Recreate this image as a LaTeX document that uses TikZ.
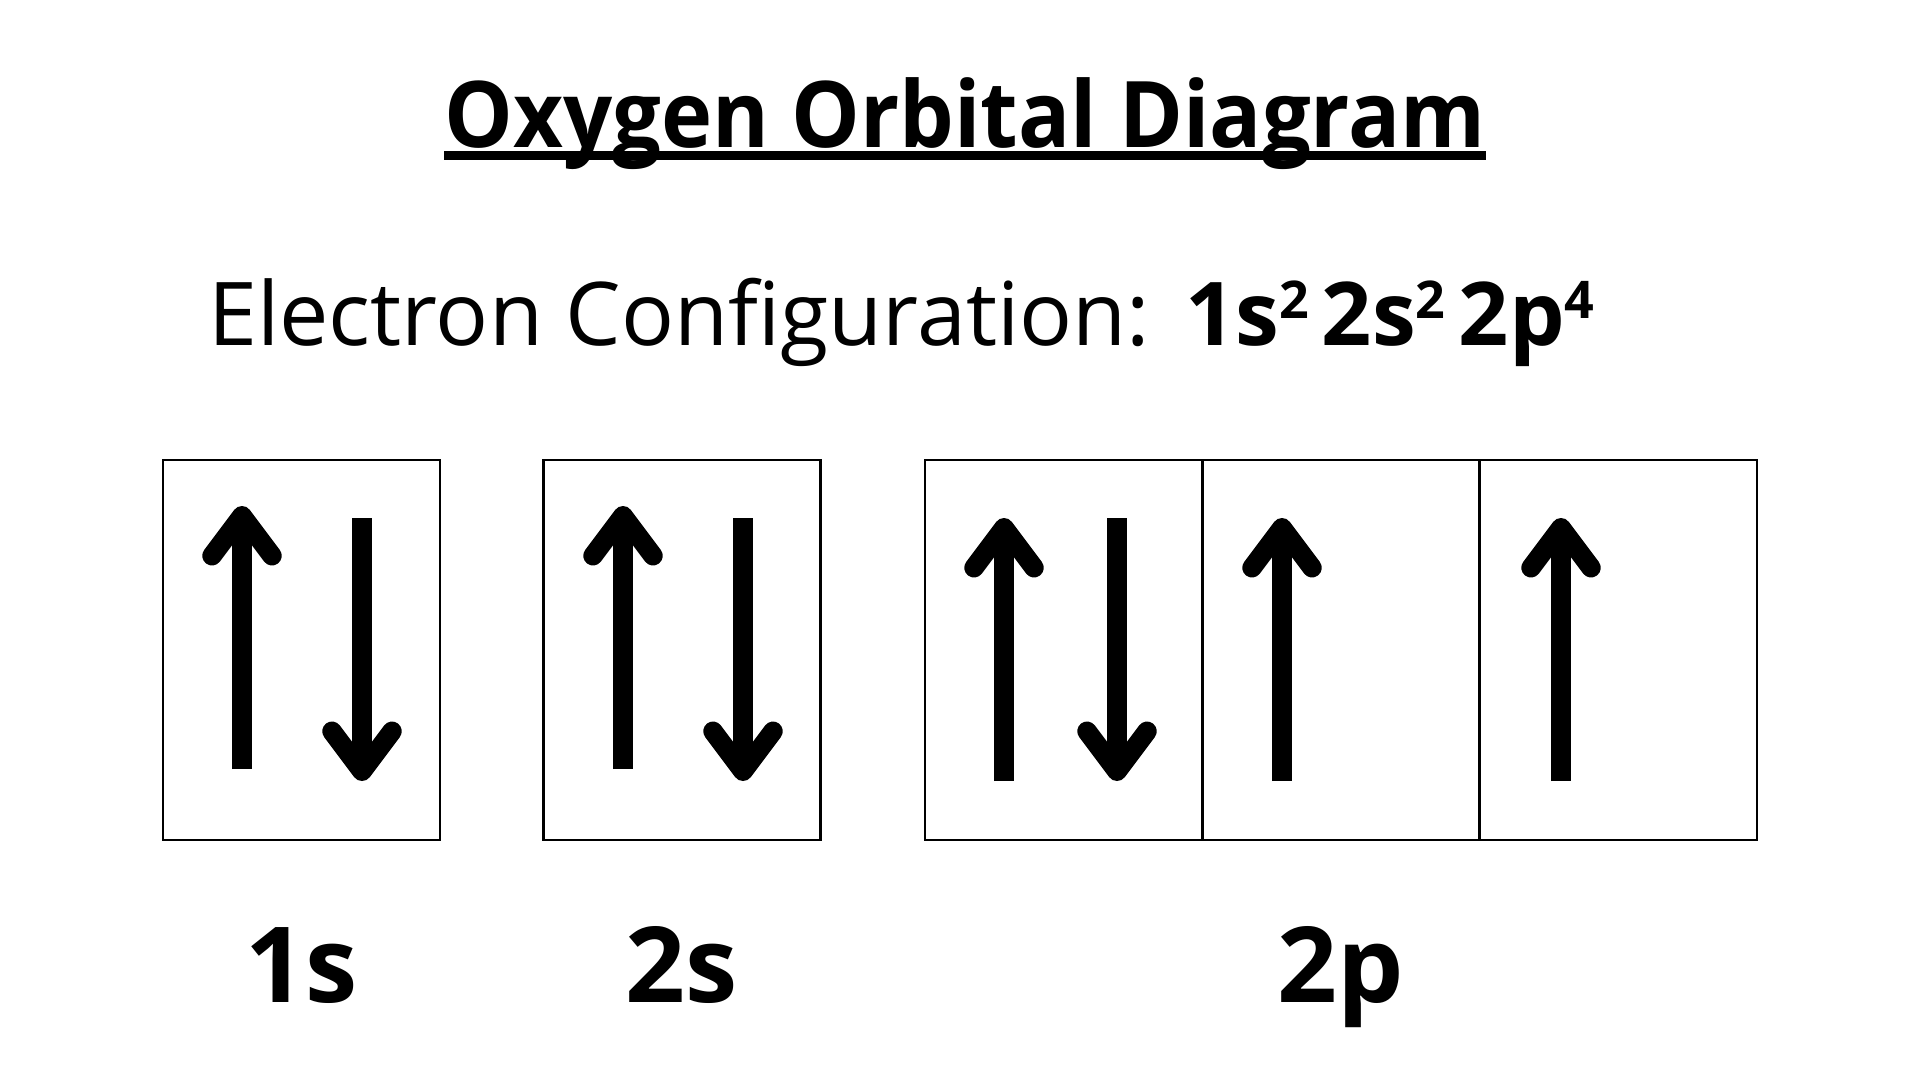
\documentclass[tikz,border=0pt]{standalone}
\usepackage{fontspec}
\setmainfont{Open Sans}
\newfontfamily\titlefont[FakeStretch=0.94]{Open Sans}
\newcommand\sups[1]{\raisebox{0.3em}{\fontsize{52}{52}\selectfont #1}}
\usetikzlibrary{arrows.meta}

\begin{document}
\begin{tikzpicture}[x=1pt,y=-1pt,
  orb/.style={draw,line width=2.5pt,minimum width=277pt,minimum height=380pt,inner sep=0},
  spin/.style={line width=19.5pt,-{Straight Barb[length=40pt,width=60pt,round]}},
  lbl/.style={anchor=base,inner sep=0,font=\fontsize{105}{120}\selectfont\bfseries}]
\useasboundingbox[fill=white] (0,0) rectangle (1920,1080);
\node[anchor=base,inner sep=0,font=\fontsize{92}{110}\titlefont\bfseries] (title) at (965,147) {Oxygen Orbital Diagram};
\draw[line width=9pt] ([yshift=-8pt]title.base west) -- ([yshift=-8pt]title.base east);
\node[anchor=base west,inner sep=0,font=\fontsize{88}{100}\selectfont] (config) at (208,345)
  {Electron Configuration:\hspace{0.4em}\textbf{1s\sups{2}\hspace{0.15em}2s\sups{2}\hspace{0.15em}2p\sups{4}}};
\node[orb] (s1) at (301.5,650) {};
\node[orb] (s2) at (682,650) {};
\node[orb] (px) at (1063.5,650) {};
\node[orb] (py) at (1341,650) {};
\node[orb] (pz) at (1618.5,650) {};
\foreach \x in {242,623} {
  \draw[spin] (\x,769) -- (\x,506);
  \draw[spin] (\x+120,518) -- (\x+120,781);
}
\foreach \x in {1004,1282,1561}
  \draw[spin] (\x,781) -- (\x,518);
\draw[spin] (1117,518) -- (1117,781);
\node[lbl] (l1s) at (301.5,1002) {1s};
\node[lbl] (l2s) at (682,1002) {2s};
\node[lbl] (l2p) at (1341,1002) {2p};
\end{tikzpicture}
\end{document}
